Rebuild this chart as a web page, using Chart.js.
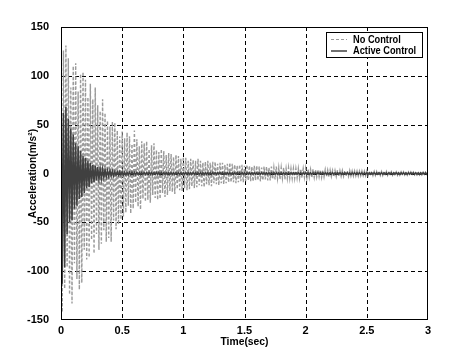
<!DOCTYPE html>
<html>
<head>
<meta charset="utf-8">
<script src="https://cdn.jsdelivr.net/npm/chart.js@4.4.1/dist/chart.umd.min.js"></script>
<style>
html,body{margin:0;padding:0;background:#fff;}
canvas{display:block;}
</style>
</head>
<body>
<canvas id="c" width="474" height="361"></canvas>
<script>
// ---- data (sampled every 0.01 s from t = 0 to 3 s) ----
const sampleStep = 0.01;
const seriesNames = ["No Control", "Active Control"];
const xTitle = "Time(sec)";
const yTitle = "Acceleration(m/s²)";
const xTicks = [0, 0.5, 1, 1.5, 2, 2.5, 3];
const yTicks = [-150, -100, -50, 0, 50, 100, 150];

const noControl = [
  0, -142, 126, -118, 131, -96, 118, -124, 88, -133,
  110, -92, 113, -108, 84, -119, 102, -112, 104, -78,
  96, -88, 78, -86, 92, -68, 76, -82, 88, -62,
  70, -78, 64, -72, 76, -58, 62, -70, 54, -66,
  48, -70, 53, -48, 52, -57, 44, -52, 38, -47,
  43, -44, 36, -40, 42, -33, 38, -41, 30, -36,
  44, -30, 35, -34, 28, -37, 33, -26, 31, -29,
  33, -27, 25, -30, 29, -22, 31, -25, 24, -27,
  22, -26, 25, -20, 23, -24, 19, -22, 21, -18,
  20, -19, 17, -21, 19, -16, 18, -17, 15, -18,
  17, -15, 16, -17, 13, -16, 15, -13, 14, -15,
  13, -14, 15, -12, 13, -13, 11, -14, 12, -11,
  13, -12, 11, -13, 12, -10, 12, -11, 10, -12,
  11, -10, 11, -11, 9, -10, 10, -9, 11, -9,
  10, -9, 9, -10, 8, -9, 9, -8, 9, -9,
  8, -8, 9, -7, 8, -8, 7, -8, 8, -7,
  8, -7, 7, -8, 6, -7, 7, -6, 7, -7,
  6, -7, 7, -6, 6, -6, 7, -5, 6, -6,
  6, -5, 6, -6, 5, -5, 6, -5, 5, -5,
  5, -5, 5, -4.5, 5, -5, 4.5, -4.5, 5, -4,
  5.5, -4.5, 4.5, -4, 4, -4.5, 4.5, -4, 4, -3.5,
  4, -3.5, 3.5, -4, 3.5, -3.5, 4, -3, 3.5, -3.5,
  3.5, -3, 3, -3.5, 3, -3, 3.5, -3, 3, -2.8,
  3, -2.8, 2.8, -3, 2.6, -2.8, 3, -2.5, 2.6, -2.6,
  2.6, -2.5, 2.4, -2.6, 2.4, -2.3, 2.5, -2.2, 2.3, -2.3,
  2.3, -2.2, 2.1, -2.3, 2.1, -2, 2.2, -2, 2, -2,
  2, -2, 1.9, -2, 1.8, -1.9, 2, -1.8, 1.8, -1.8,
  1.8, -1.7, 1.7, -1.8, 1.6, -1.7, 1.7, -1.6, 1.6, -1.6,
  1.6, -1.5, 1.5, -1.6, 1.4, -1.5, 1.5, -1.4, 1.4, -1.4,
  1.4, -1.3, 1.3, -1.4, 1.3, -1.3, 1.3, -1.2, 1.2, -1.3,
  1.2
];

const activeControl = [
  113, -113, 62, -96, 68, -62, 56, -50, 46, -48,
  40, -36, 31, -33, 28, -26, 23, -24, 18, -20,
  16, -15, 13, -14, 11, -10, 9, -9, 8, -7,
  6.5, -6, 5, -5.5, 4.5, -4, 4, -3.5, 3, -3,
  3, -2.5, 2.5, -2.5, 2, -2, 2, -1.8, 1.8, -1.6,
  1.6, -1.5, 1.4, -1.5, 1.3, -1.4, 1.3, -1.2, 1.3, -1.2,
  1.2, -1.1, 1.2, -1.1, 1.1, -1.2, 1.1, -1, 1.1, -1.1,
  1.1, -1, 1.1, -1, 1, -1.1, 1, -1, 1.1, -1,
  1, -1, 1.1, -0.9, 1, -1, 1, -0.9, 1, -1,
  1, -0.9, 1, -1, 0.9, -1, 1, -0.9, 1, -0.9,
  1, -0.9, 0.9, -1, 0.9, -0.9, 1, -0.9, 0.9, -0.9,
  0.9, -0.9, 1, -0.9, 0.9, -0.9, 0.9, -0.9, 0.9, -0.9,
  0.9, -0.9, 0.9, -0.9, 0.9, -0.8, 0.9, -0.9, 0.9, -0.8,
  0.9, -0.8, 0.9, -0.9, 0.8, -0.9, 0.9, -0.8, 0.9, -0.8,
  0.8, -0.9, 0.8, -0.8, 0.9, -0.8, 0.8, -0.8, 0.9, -0.8,
  0.8, -0.8, 0.8, -0.8, 0.8, -0.8, 0.8, -0.8, 0.8, -0.8,
  0.8, -0.8, 0.8, -0.8, 0.8, -0.8, 0.8, -0.8, 0.8, -0.8,
  0.8, -0.8, 0.8, -0.8, 0.8, -0.8, 0.8, -0.8, 0.8, -0.8,
  0.8, -0.8, 0.8, -0.8, 0.8, -0.8, 0.8, -0.8, 0.8, -0.8,
  0.8, -0.8, 0.8, -0.8, 0.8, -0.8, 0.8, -0.8, 0.8, -0.8,
  0.8, -0.8, 0.8, -0.8, 0.8, -0.8, 0.8, -0.8, 0.8, -0.8,
  0.8, -0.8, 0.8, -0.8, 0.8, -0.8, 0.8, -0.8, 0.8, -0.8,
  0.8, -0.8, 0.8, -0.8, 0.8, -0.8, 0.8, -0.8, 0.8, -0.8,
  0.8, -0.8, 0.8, -0.8, 0.8, -0.8, 0.8, -0.8, 0.8, -0.8,
  0.8, -0.8, 0.8, -0.8, 0.8, -0.8, 0.8, -0.8, 0.8, -0.8,
  0.8, -0.8, 0.8, -0.8, 0.8, -0.8, 0.8, -0.8, 0.8, -0.8,
  0.8, -0.8, 0.8, -0.8, 0.8, -0.8, 0.8, -0.8, 0.8, -0.8,
  0.8, -0.8, 0.8, -0.8, 0.8, -0.8, 0.8, -0.8, 0.8, -0.8,
  0.8, -0.8, 0.8, -0.8, 0.8, -0.8, 0.8, -0.8, 0.8, -0.8,
  0.8, -0.8, 0.8, -0.8, 0.8, -0.8, 0.8, -0.8, 0.8, -0.8,
  0.8
];

// ---- styles ----
const FONT = "'Liberation Sans', Arial, sans-serif";
const colNo = '#9a9a9a';
const colAct = '#404040';

const toPoints = arr => arr.map((v, i) => ({ x: +(i * sampleStep).toFixed(2), y: v }));

function drawText(ctx, text, x, y, size, sx, rot) {
  ctx.save();
  ctx.translate(x, y);
  if (rot) ctx.rotate(rot);
  ctx.scale(sx, 1);
  ctx.font = 'bold ' + size + 'px ' + FONT;
  ctx.fillStyle = '#000';
  ctx.textBaseline = 'middle';
  ctx.fillText(text, 0, 0);
  ctx.restore();
}

const gridPlugin = {
  id: 'dashGrid',
  beforeDatasetsDraw(chart) {
    const ctx = chart.ctx, a = chart.chartArea;
    const xs = chart.scales.x, ys = chart.scales.y;
    ctx.save();
    ctx.strokeStyle = '#000';
    ctx.lineWidth = 1;
    ctx.setLineDash([4, 3]);
    xTicks.slice(1, -1).forEach(v => {
      const px = Math.round(xs.getPixelForValue(v)) + 0.5;
      ctx.beginPath(); ctx.moveTo(px, a.top); ctx.lineTo(px, a.bottom); ctx.stroke();
    });
    yTicks.slice(1, -1).forEach(v => {
      const py = Math.round(ys.getPixelForValue(v)) + 0.5;
      ctx.beginPath(); ctx.moveTo(a.left, py); ctx.lineTo(a.right, py); ctx.stroke();
    });
    ctx.restore();
  }
};

const decorPlugin = {
  id: 'decor',
  afterDraw(chart) {
    const ctx = chart.ctx;
    const a = chart.chartArea;
    ctx.save();
    ctx.strokeStyle = '#000';
    ctx.lineWidth = 1;
    ctx.setLineDash([]);
    ctx.strokeRect(Math.round(a.left) + 0.5, Math.round(a.top) + 0.5,
                   Math.round(a.right - a.left) - 1, Math.round(a.bottom - a.top) - 1);
    // legend
    const bx = 326.5, by = 32.5, bw = 96, bh = 25;
    ctx.fillStyle = '#fff';
    ctx.fillRect(bx, by, bw, bh);
    ctx.strokeRect(bx, by, bw, bh);
    ctx.strokeStyle = colNo;
    ctx.setLineDash([3, 2]);
    ctx.beginPath(); ctx.moveTo(331, 39.5); ctx.lineTo(347, 39.5); ctx.stroke();
    ctx.setLineDash([]);
    ctx.strokeStyle = colAct;
    ctx.lineWidth = 1.5;
    ctx.beginPath(); ctx.moveTo(331, 51); ctx.lineTo(347, 51); ctx.stroke();
    ctx.restore();
    ctx.textAlign = 'left';
    drawText(ctx, seriesNames[0], 353, 39.5, 11, 0.84, 0);
    drawText(ctx, seriesNames[1], 353, 51, 11, 0.84, 0);
    // axis titles
    ctx.save();
    ctx.textAlign = 'center';
    drawText(ctx, xTitle, (a.left + a.right) / 2, 342, 11, 0.94, 0);
    drawText(ctx, yTitle, 33, (a.top + a.bottom) / 2, 11, 0.93, -Math.PI / 2);
    ctx.restore();
  }
};

const tickFont = { family: FONT, size: 11, weight: 'bold' };

new Chart(document.getElementById('c'), {
  type: 'line',
  data: {
    datasets: [
      { label: seriesNames[0], data: toPoints(noControl), borderColor: colNo,
        borderWidth: 1.4, borderDash: [3, 2], pointRadius: 0, tension: 0, order: 2 },
      { label: seriesNames[1], data: toPoints(activeControl), borderColor: colAct,
        borderWidth: 1.5, pointRadius: 0, tension: 0, order: 1 }
    ]
  },
  options: {
    responsive: false,
    animation: false,
    layout: { padding: { left: 0, right: 46, top: 27, bottom: 0 } },
    plugins: { legend: { display: false }, tooltip: { enabled: false } },
    scales: {
      x: {
        type: 'linear', min: 0, max: 3,
        afterBuildTicks: s => { s.ticks = xTicks.map(v => ({ value: v })); },
        afterFit: s => { s.height = 41; },
        ticks: { color: '#000', font: tickFont, padding: -4, maxRotation: 0,
                 callback: v => String(v) },
        grid: { display: false },
        border: { display: false },
        title: { display: false }
      },
      y: {
        type: 'linear', min: -150, max: 150,
        afterBuildTicks: s => { s.ticks = yTicks.map(v => ({ value: v })); },
        afterFit: s => { s.width = 61; },
        ticks: { color: '#000', font: tickFont, padding: 4, callback: v => String(v) },
        grid: { display: false },
        border: { display: false },
        title: { display: false }
      }
    }
  },
  plugins: [gridPlugin, decorPlugin]
});
</script>
</body>
</html>
